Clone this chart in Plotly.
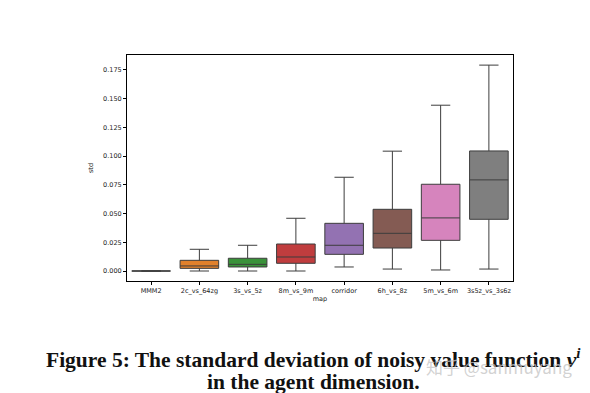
import plotly.graph_objects as go

maps = ["MMM2", "2c_vs_64zg", "3s_vs_5z", "8m_vs_9m", "corridor", "6h_vs_8z", "5m_vs_6m", "3s5z_vs_3s6z"]
lower = [0.0, 0.0, 0.0, 0.0, 0.0035, 0.0017, 0.0009, 0.0017]
q1 = [0.0, 0.0023, 0.0035, 0.0067, 0.0145, 0.0200, 0.0267, 0.0450]
median = [0.0, 0.0044, 0.0058, 0.0122, 0.0224, 0.0328, 0.0462, 0.0793]
q3 = [0.0, 0.0093, 0.0111, 0.0235, 0.0415, 0.0537, 0.0755, 0.1045]
upper = [0.0, 0.0189, 0.0224, 0.0459, 0.0816, 0.1043, 0.1443, 0.1792]
colors = ["#3274a1", "#e1812c", "#3a923a", "#c03d3e", "#9372b2", "#845b53", "#d684bd", "#7f7f7f"]
yticks = [0.0, 0.025, 0.05, 0.075, 0.1, 0.125, 0.15, 0.175]

# page has an 8px body margin, so the figure is drawn 8px smaller and offset
OFF = 8
W, H = 590 - OFF, 393 - OFF
L, T, R, B = 127 - OFF, 55 - OFF, 77, 112

fig = go.Figure()
for i, m in enumerate(maps):
    fig.add_trace(go.Box(
        x=[m], q1=[q1[i]], median=[median[i]], q3=[q3[i]],
        lowerfence=[lower[i]], upperfence=[upper[i]],
        fillcolor=colors[i], line=dict(color="#3d3d3d", width=1),
        width=0.8, whiskerwidth=0.5, boxpoints=False, showlegend=False,
        hoverinfo="skip",
    ))

plot_h = H - T - B
plot_w = W - L - R
def py(ypix):
    return (H - B - (ypix - OFF)) / plot_h
def px(xpix):
    return ((xpix - OFF) - L) / plot_w

fig.update_layout(
    width=W, height=H,
    margin=dict(l=L, r=R, t=T, b=B),
    paper_bgcolor="white", plot_bgcolor="white",
    boxmode="overlay",
    font=dict(family="DejaVu Sans", size=6.5, color="#222"),
    xaxis=dict(
        categoryorder="array", categoryarray=maps, range=[-0.5, 7.5],
        showline=True, linecolor="black", linewidth=1, mirror=True,
        ticks="outside", ticklen=3, tickcolor="black", showgrid=False,
        title=dict(text="map", font=dict(size=6.5, color="#222"), standoff=1),
        tickfont=dict(size=6.5, color="#222"),
    ),
    yaxis=dict(
        range=[-0.0087, 0.188], tickvals=yticks, tickformat=".3f",
        showline=True, linecolor="black", linewidth=1, mirror=True,
        ticks="outside", ticklen=3, tickcolor="black", showgrid=False, zeroline=False,
        title=dict(text="std", font=dict(size=6.5, color="#222"), standoff=8),
        tickfont=dict(size=6.5, color="#222"),
    ),
    annotations=[
        dict(text="<b>Figure 5: The standard deviation of noisy value function <i>v<sup>i</sup></i></b>",
             x=px(313), y=py(358), xref="paper", yref="paper", showarrow=False,
             xanchor="center", yanchor="middle",
             font=dict(family="Liberation Serif", size=21.5, color="#111")),
        dict(text="<b>in the agent dimension.</b>",
             x=px(313), y=py(382), xref="paper", yref="paper", showarrow=False,
             xanchor="center", yanchor="middle",
             font=dict(family="Liberation Serif", size=21.5, color="#111")),
        dict(text="知乎 @sanmuyang", x=px(499), y=py(366), xref="paper", yref="paper",
             showarrow=False, xanchor="center", yanchor="middle",
             font=dict(family="Noto Sans CJK SC", size=17, color="rgba(195,195,195,0.75)")),
    ],
)

fig.write_html("out.html")
